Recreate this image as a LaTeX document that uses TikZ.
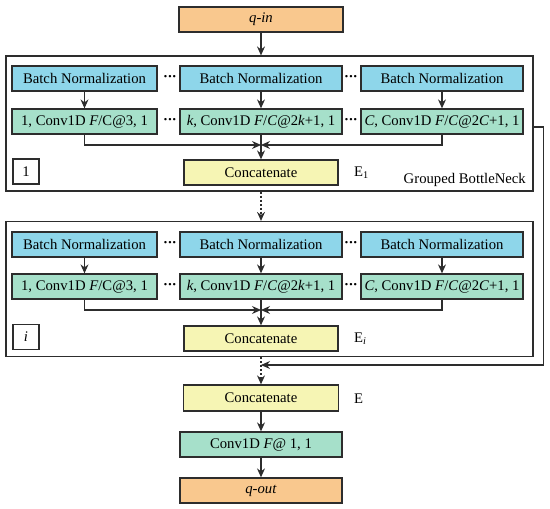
\documentclass[tikz,border=0pt]{standalone}
\usepackage{fontspec}
\setmainfont{Liberation Serif}
\usetikzlibrary{arrows.meta}
\definecolor{cOr}{RGB}{249,200,142}
\definecolor{cBl}{RGB}{142,214,234}
\definecolor{cGr}{RGB}{166,224,202}
\definecolor{cYe}{RGB}{246,245,180}
\definecolor{edge}{RGB}{45,45,45}
\newcommand{\fs}{\fontsize{14.7}{17}\selectfont}
\newcommand{\mydots}{\textbf{·\kern-0.6pt·\kern-0.6pt·}}
\begin{document}
\begin{tikzpicture}[x=1pt,y=-1pt,
  box/.style={draw=edge, line width=1.3pt, minimum height=25pt, inner sep=0pt, font=\fs},
  wide/.style={minimum width=162pt},
  narrow/.style={minimum width=145pt},
  bn/.style={box, fill=cBl},
  cv/.style={box, fill=cGr},
  cat/.style={box, fill=cYe, minimum width=154pt},
  io/.style={box, fill=cOr, minimum width=164pt},
  grp/.style={draw=edge, line width=1.2pt, minimum width=527pt, minimum height=135pt, inner sep=0pt},
  idx/.style={draw=edge, line width=1.1pt, minimum width=26pt, minimum height=25pt, inner sep=0pt, font=\fs},
  lbl/.style={font=\fs, inner sep=0pt},
  dots/.style={font=\fs, inner sep=0pt},
  arr/.style={-{Stealth[length=9pt,width=8pt,inset=3pt]}, line width=1.1pt, draw=edge},
  dot/.style={dash pattern=on 2pt off 2pt}
]
\useasboundingbox (0,0) rectangle (550,509);

\node[io] (qin) at (261,19.5) {\textit{q-in}};

% group 1
\node[grp] (g1) at (269.5,123.5) {};
\node[bn,narrow] (bA1) at (84.5,78.5) {Batch Normalization};
\node[bn,wide] (bB1) at (261,78.5) {Batch Normalization};
\node[bn,wide] (bC1) at (442,78.5) {Batch Normalization};
\node[cv,narrow] (cA1) at (84.5,121.5) {1, Conv1D \textit{F}/C@3, 1};
\node[cv,wide] (cB1) at (261,121.5) {\textit{k}, Conv1D \textit{F}/\textit{C}@2\textit{k}+1, 1};
\node[cv,wide] (cC1) at (442,121.5) {\textit{C}, Conv1D \textit{F}/\textit{C}@2\textit{C}+1, 1};
\node[dots] (d1) at (170,78.5) {\mydots};
\node[dots] (d2) at (351,78.5) {\mydots};
\node[dots] (d3) at (170,121.5) {\mydots};
\node[dots] (d4) at (351,121.5) {\mydots};
\node[cat] (k1) at (261,172.5) {Concatenate};
\node[idx] (n1) at (26,171.5) {1};
\node[lbl, anchor=west] (e1) at (354,173) {E\textsubscript{1}};
\node[lbl, anchor=east] (gl) at (526,180) {Grouped BottleNeck};
\coordinate (j1) at (261,145);

\draw[arr] (qin) -- (g1.north -| qin);
\draw[arr] (bA1) -- (cA1);
\draw[arr] (bB1) -- (cB1);
\draw[arr] (bC1) -- (cC1);
\draw[arr] (cA1.south) |- (j1);
\draw[arr] (cC1.south) |- (j1);
\draw[arr] (cB1.south) -- (k1.north);

% group 2
\node[grp] (g2) at (269.5,289) {};
\node[bn,narrow] (bA2) at (84.5,244.5) {Batch Normalization};
\node[bn,wide] (bB2) at (261,244.5) {Batch Normalization};
\node[bn,wide] (bC2) at (442,244.5) {Batch Normalization};
\node[cv,narrow] (cA2) at (84.5,286.5) {1, Conv1D \textit{F}/C@3, 1};
\node[cv,wide] (cB2) at (261,286.5) {\textit{k}, Conv1D \textit{F}/\textit{C}@2\textit{k}+1, 1};
\node[cv,wide] (cC2) at (442,286.5) {\textit{C}, Conv1D \textit{F}/\textit{C}@2\textit{C}+1, 1};
\node[dots] (d5) at (170,244.5) {\mydots};
\node[dots] (d6) at (351,244.5) {\mydots};
\node[dots] (d7) at (170,286.5) {\mydots};
\node[dots] (d8) at (351,286.5) {\mydots};
\node[cat] (k2) at (261,338.5) {Concatenate};
\node[idx] (n2) at (26,337) {\textit{i}};
\node[lbl, anchor=west] (e2) at (354,339) {E\textsubscript{\textit{i}}};
\coordinate (j2) at (261,310);

\draw[arr] (bA2) -- (cA2);
\draw[arr] (bB2) -- (cB2);
\draw[arr] (bC2) -- (cC2);
\draw[arr] (cA2.south) |- (j2);
\draw[arr] (cC2.south) |- (j2);
\draw[arr] (cB2.south) -- (k2.north);

\draw[arr,dot] (g1.south -| qin) -- (g2.north -| qin);

% output part
\node[cat, minimum width=155pt, minimum height=26pt] (k3) at (261,398) {Concatenate};
\node[lbl, anchor=west] (e3) at (354,399) {E};
\node[cv,wide] (cf) at (261,444.5) {Conv1D \textit{F}@ 1, 1};
\node[io, minimum width=162pt] (qout) at (261,490.5) {\textit{q-out}};
\coordinate (j3) at (261,365);

\draw[arr] ([yshift=-3.5pt]g1.east) -- ++(10,0) |- (j3);
\draw[arr,dot] (g2.south -| qin) -- (k3.north);
\draw[arr] (k3) -- (cf);
\draw[arr] (cf) -- (qout);
\end{tikzpicture}
\end{document}
